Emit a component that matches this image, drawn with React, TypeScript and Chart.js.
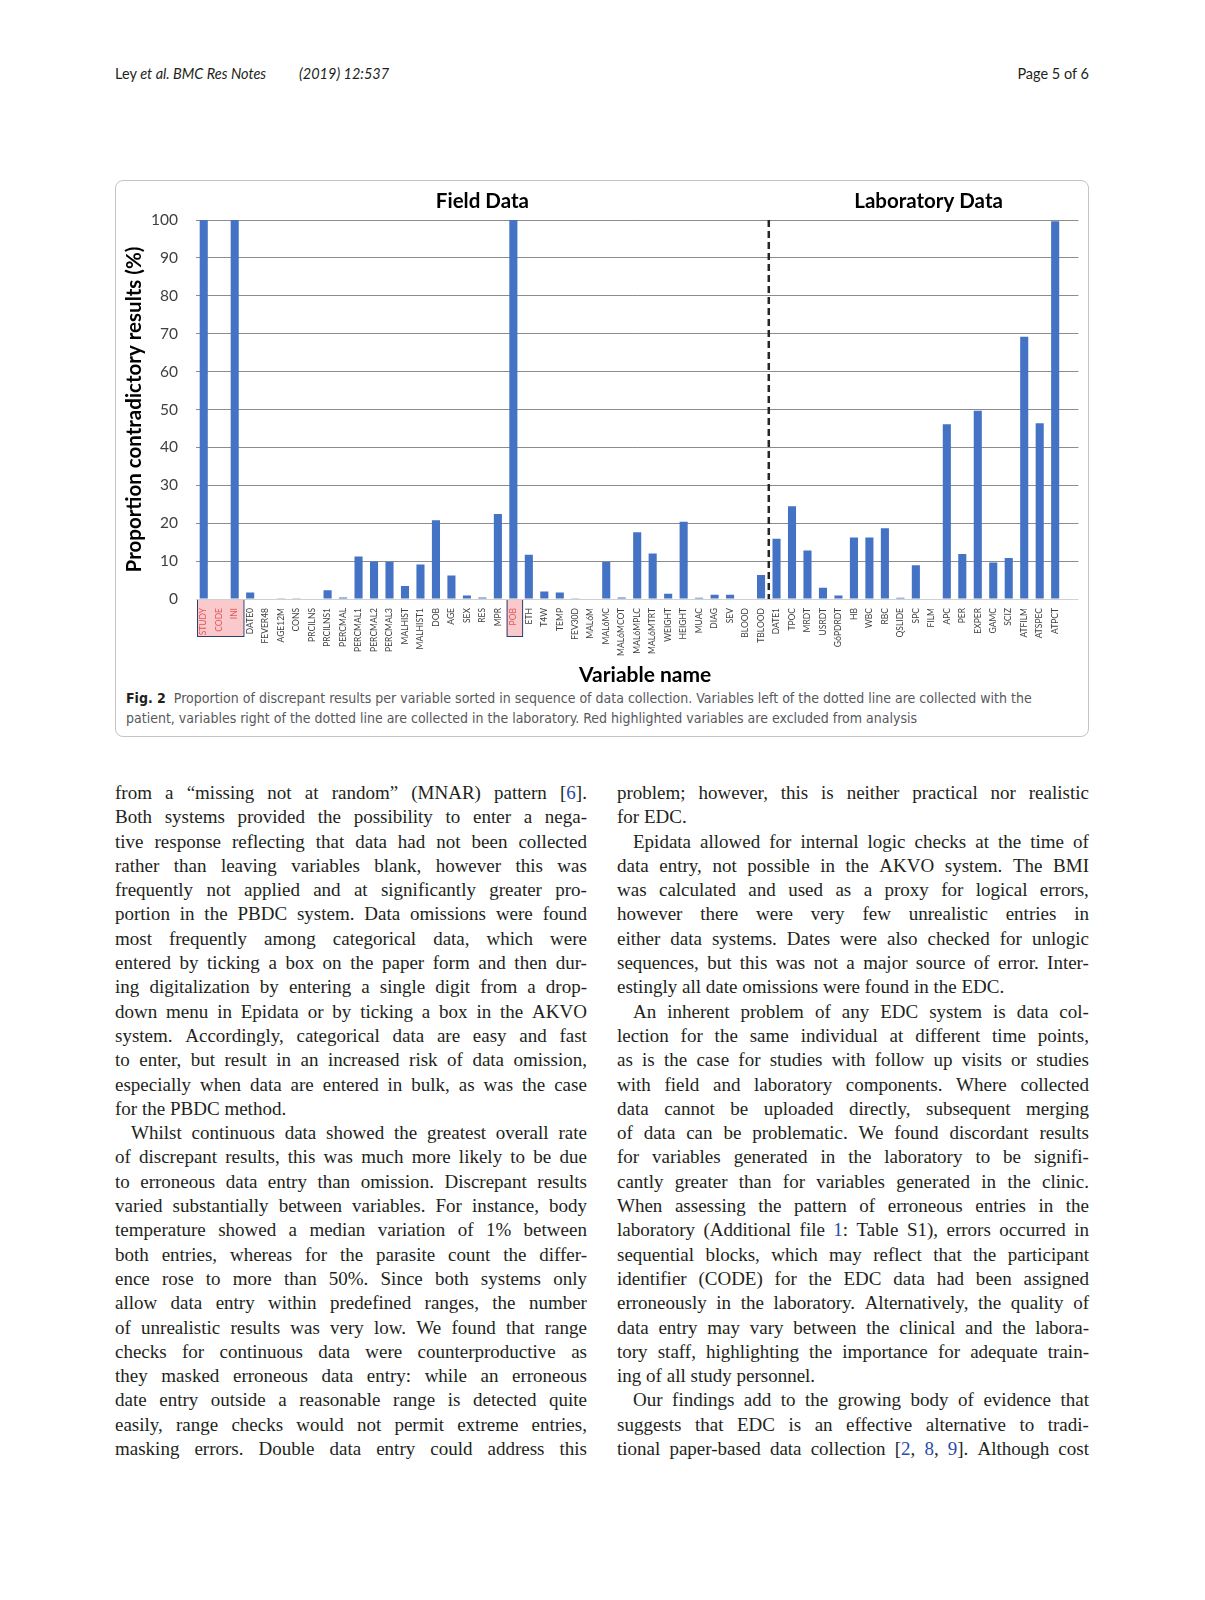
import { useEffect, useRef } from "react";
import { Chart, registerables } from "chart.js";

Chart.register(...registerables);

// variable names in order of data collection (last slot is an empty category Excel left in)
const variables = [
  "STUDY", "CODE", "INI", "DATE0", "FEVER48", "AGE12M", "CONS", "PRCILNS", "PRCILNS1",
  "PERCMAL", "PERCMAL1", "PERCMAL2", "PERCMAL3", "MALHIST", "MALHIST1", "DOB", "AGE",
  "SEX", "RES", "MPR", "POB", "ETH", "T4W", "TEMP", "FEV30D", "MAL6M", "MAL6MC",
  "MAL6MCOT", "MAL6MPLC", "MAL6MTRT", "WEIGHT", "HEIGHT", "MUAC", "DIAG", "SEV",
  "BLOOD", "TBLOOD", "DATE1", "TPOC", "MRDT", "USRDT", "G6PDRDT", "HB", "WBC", "RBC",
  "QSLIDE", "SPC", "FILM", "APC", "PER", "EXPER", "GAMC", "SCIZ", "ATFILM", "ATSPEC",
  "ATPCT", "",
];

// proportion of contradictory results (%)
const discrepant = [
  100, 0, 100, 1.7, 0, 0.2, 0.2, 0, 2.3,
  0.4, 11.2, 9.9, 9.8, 3.4, 9.1, 20.8, 6.2,
  0.9, 0.4, 22.4, 100, 11.7, 2.0, 1.7, 0.2, 0, 9.8,
  0.4, 17.6, 12.0, 1.4, 20.4, 0.35, 1.1, 1.1,
  0, 6.3, 15.9, 24.5, 12.8, 3.0, 0.9, 16.2, 16.2, 18.7,
  0.35, 8.9, 0, 46.1, 11.9, 49.7, 9.6, 10.8, 69.2, 46.4,
  99.7, null,
];

const excludedVars = ["STUDY", "CODE", "INI", "POB"];
const lastFieldVar = "TBLOOD";
const groupTitles = ["Field Data", "Laboratory Data"];
const xTitle = "Variable name";
const yTicks = [0, 10, 20, 30, 40, 50, 60, 70, 80, 90, 100];

const BLUE = "#4472c4";
const FONT = "Lato, 'Open Sans', sans-serif";

const overlay = {
  id: "overlay",
  beforeDraw(chart: any) {
    const { ctx, scales } = chart;
    const x = scales.x;
    const y = scales.y;
    const step = x.getPixelForValue(1) - x.getPixelForValue(0);
    let i = 0;
    while (i < variables.length) {
      if (!excludedVars.includes(variables[i])) {
        i++;
        continue;
      }
      let j = i;
      while (j + 1 < variables.length && excludedVars.includes(variables[j + 1])) j++;
      const l = x.getPixelForValue(i) - step / 2 + 1;
      const r = x.getPixelForValue(j) + step / 2 + 1;
      ctx.save();
      ctx.fillStyle = "#f9c9cc";
      ctx.fillRect(l, y.bottom, r - l, 38);
      ctx.strokeStyle = "#2f3d6b";
      ctx.lineWidth = 1;
      ctx.strokeRect(l + 0.5, y.bottom + 0.5, r - l, 37);
      ctx.restore();
      i = j + 1;
    }
  },
  afterDraw(chart: any) {
    const { ctx, scales } = chart;
    const x = scales.x;
    const y = scales.y;
    const k = variables.indexOf(lastFieldVar);
    const divX = (x.getPixelForValue(k) + x.getPixelForValue(k + 1)) / 2;
    ctx.save();
    ctx.strokeStyle = "#262626";
    ctx.lineWidth = 2.5;
    ctx.setLineDash([7, 4]);
    ctx.beginPath();
    ctx.moveTo(divX, y.getPixelForValue(100));
    ctx.lineTo(divX, y.getPixelForValue(0));
    ctx.stroke();
    ctx.setLineDash([]);
    ctx.fillStyle = "#000";
    ctx.font = `bold 20.5px ${FONT}`;
    ctx.textAlign = "center";
    ctx.textBaseline = "middle";
    ctx.fillText(groupTitles[0], (x.left + divX) / 2, 20);
    ctx.fillText(groupTitles[1], (divX + x.right) / 2 + 5, 20);
    ctx.font = `bold 21px ${FONT}`;
    ctx.fillText(xTitle, (x.left + x.right) / 2 + 8, 494);
    ctx.restore();
  },
};

const DiscrepancyChart = () => {
  const canvasRef = useRef<HTMLCanvasElement>(null);

  useEffect(() => {
    if (!canvasRef.current) return;
    const ctx = canvasRef.current.getContext("2d");
    if (!ctx) return;

    const chart = new Chart(ctx, {
      type: "bar",
      data: {
        labels: variables,
        datasets: [
          {
            data: discrepant,
            backgroundColor: BLUE,
            borderWidth: 0,
            barPercentage: 0.55,
            categoryPercentage: 0.95,
          },
        ],
      },
      options: {
        responsive: false,
        animation: false,
        devicePixelRatio: 1,
        layout: { padding: { top: 39, right: 10.6, left: 0, bottom: 0 } },
        plugins: {
          legend: { display: false },
          tooltip: { enabled: false },
          title: { display: false },
        },
        scales: {
          x: {
            grid: { display: false },
            border: { display: false },
            ticks: {
              autoSkip: false,
              maxRotation: 90,
              minRotation: 90,
              padding: 1,
              font: { family: FONT, size: 8.5 },
              color: (c: any) =>
                excludedVars.includes(variables[c.index]) ? "#e0575b" : "#404040",
            },
            afterFit: (s: any) => {
              s.height = 89;
            },
          },
          y: {
            min: 0,
            max: 100,
            afterBuildTicks: (s: any) => {
              s.ticks = yTicks.map((v) => ({ value: v }));
            },
            grid: {
              drawTicks: false,
              color: (c: any) => (c.tick && c.tick.value === 0 ? "#d0d0d0" : "#8c8c8c"),
              lineWidth: 1,
            },
            border: { display: false },
            ticks: {
              padding: 18,
              color: "#404040",
              font: { family: FONT, size: 15.5 },
            },
            title: {
              display: true,
              text: "Proportion contradictory results (%)",
              color: "#000",
              font: { family: FONT, size: 20.5, weight: "bold" },
              padding: { top: 7, bottom: 0 },
            },
            afterFit: (s: any) => {
              s.width = 81;
            },
          },
        },
      },
      plugins: [overlay],
    });

    return () => chart.destroy();
  }, []);

  return <canvas ref={canvasRef} width={974} height={507} style={{ width: 974, height: 507 }} />;
};

type Para = { indent: boolean; open?: boolean; lines: string[] };

const leftColumn: Para[] = [
  {
    indent: false,
    lines: [
      "from a “missing not at random” (MNAR) pattern [{6}].",
      "Both systems provided the possibility to enter a nega-",
      "tive response reflecting that data had not been collected",
      "rather than leaving variables blank, however this was",
      "frequently not applied and at significantly greater pro-",
      "portion in the PBDC system. Data omissions were found",
      "most frequently among categorical data, which were",
      "entered by ticking a box on the paper form and then dur-",
      "ing digitalization by entering a single digit from a drop-",
      "down menu in Epidata or by ticking a box in the AKVO",
      "system. Accordingly, categorical data are easy and fast",
      "to enter, but result in an increased risk of data omission,",
      "especially when data are entered in bulk, as was the case",
      "for the PBDC method.",
    ],
  },
  {
    indent: true,
    open: true,
    lines: [
      "Whilst continuous data showed the greatest overall rate",
      "of discrepant results, this was much more likely to be due",
      "to erroneous data entry than omission. Discrepant results",
      "varied substantially between variables. For instance, body",
      "temperature showed a median variation of 1% between",
      "both entries, whereas for the parasite count the differ-",
      "ence rose to more than 50%. Since both systems only",
      "allow data entry within predefined ranges, the number",
      "of unrealistic results was very low. We found that range",
      "checks for continuous data were counterproductive as",
      "they masked erroneous data entry: while an erroneous",
      "date entry outside a reasonable range is detected quite",
      "easily, range checks would not permit extreme entries,",
      "masking errors. Double data entry could address this",
    ],
  },
];

const rightColumn: Para[] = [
  {
    indent: false,
    lines: ["problem; however, this is neither practical nor realistic", "for EDC."],
  },
  {
    indent: true,
    lines: [
      "Epidata allowed for internal logic checks at the time of",
      "data entry, not possible in the AKVO system. The BMI",
      "was calculated and used as a proxy for logical errors,",
      "however there were very few unrealistic entries in",
      "either data systems. Dates were also checked for unlogic",
      "sequences, but this was not a major source of error. Inter-",
      "estingly all date omissions were found in the EDC.",
    ],
  },
  {
    indent: true,
    lines: [
      "An inherent problem of any EDC system is data col-",
      "lection for the same individual at different time points,",
      "as is the case for studies with follow up visits or studies",
      "with field and laboratory components. Where collected",
      "data cannot be uploaded directly, subsequent merging",
      "of data can be problematic. We found discordant results",
      "for variables generated in the laboratory to be signifi-",
      "cantly greater than for variables generated in the clinic.",
      "When assessing the pattern of erroneous entries in the",
      "laboratory (Additional file {1}: Table S1), errors occurred in",
      "sequential blocks, which may reflect that the participant",
      "identifier (CODE) for the EDC data had been assigned",
      "erroneously in the laboratory. Alternatively, the quality of",
      "data entry may vary between the clinical and the labora-",
      "tory staff, highlighting the importance for adequate train-",
      "ing of all study personnel.",
    ],
  },
  {
    indent: true,
    open: true,
    lines: [
      "Our findings add to the growing body of evidence that",
      "suggests that EDC is an effective alternative to tradi-",
      "tional paper-based data collection [{2}, {8}, {9}]. Although cost",
    ],
  },
];

const Word = ({ w }: { w: string }) => {
  const parts = w.split(/(\{[^}]*\})/).filter((p) => p !== "");
  return (
    <span>
      {parts.map((p, i) =>
        p.startsWith("{") ? (
          <span key={i} style={{ color: "#2b4aa8" }}>
            {p.slice(1, -1)}
          </span>
        ) : (
          <span key={i}>{p}</span>
        )
      )}
    </span>
  );
};

const Column = ({ paras, left }: { paras: Para[]; left: number }) => (
  <div style={{ position: "absolute", left, top: 781, width: 472 }}>
    {paras.map((p, pi) =>
      p.lines.map((line, li) => {
        const last = li === p.lines.length - 1 && !p.open;
        const words = line.split(" ");
        return (
          <div
            key={`${pi}-${li}`}
            style={{
              display: "flex",
              justifyContent: last ? "flex-start" : "space-between",
              gap: last ? 4.8 : 0,
              height: 24.3,
              lineHeight: "24.3px",
              paddingLeft: p.indent && li === 0 ? 16 : 0,
              whiteSpace: "nowrap",
            }}
          >
            {words.map((w, wi) => (
              <Word key={wi} w={w} />
            ))}
          </div>
        );
      })
    )}
  </div>
);

export default function App() {
  const sans = "Lato, 'Open Sans', sans-serif";
  return (
    <div
      style={{
        position: "absolute",
        left: 0,
        top: 0,
        width: 1205,
        height: 1600,
        background: "#fff",
        overflow: "hidden",
      }}
    >
      <div
        style={{
          position: "absolute",
          left: 115,
          top: 65,
          fontFamily: sans,
          fontSize: 14.5,
          color: "#231f20",
          whiteSpace: "nowrap",
        }}
      >
        Ley <i>et al. BMC Res Notes</i>
      </div>
      <div
        style={{
          position: "absolute",
          left: 299,
          top: 65,
          fontFamily: sans,
          fontSize: 14.5,
          color: "#231f20",
          fontStyle: "italic",
        }}
      >
        (2019) 12:537
      </div>
      <div
        style={{
          position: "absolute",
          right: 1205 - 1089,
          top: 65,
          fontFamily: sans,
          fontSize: 14.5,
          color: "#231f20",
        }}
      >
        Page 5 of 6
      </div>

      <div
        style={{
          position: "absolute",
          left: 115,
          top: 180,
          width: 972,
          height: 555,
          border: "1px solid #c4c4c4",
          borderRadius: 8,
        }}
      />
      <div style={{ position: "absolute", left: 115, top: 181 }}>
        <DiscrepancyChart />
      </div>
      <div
        style={{
          position: "absolute",
          left: 126,
          top: 688,
          width: 955,
          fontFamily: "'Liberation Sans Narrow', 'DejaVu Sans Condensed', Roboto, sans-serif",
          fontStretch: "condensed",
          fontSize: 14,
          lineHeight: "20.4px",
          color: "#58595b",
          whiteSpace: "nowrap",
        }}
      >
        <div>
          <b style={{ color: "#231f20" }}>Fig. 2</b>&nbsp; Proportion of discrepant results per
          variable sorted in sequence of data collection. Variables left of the dotted line are
          collected with the
        </div>
        <div>
          patient, variables right of the dotted line are collected in the laboratory. Red
          highlighted variables are excluded from analysis
        </div>
      </div>

      <div
        style={{
          fontFamily: "'Liberation Serif', 'DejaVu Serif', serif",
          fontSize: 19,
          color: "#231f20",
        }}
      >
        <Column paras={leftColumn} left={115} />
        <Column paras={rightColumn} left={617} />
      </div>
    </div>
  );
}
